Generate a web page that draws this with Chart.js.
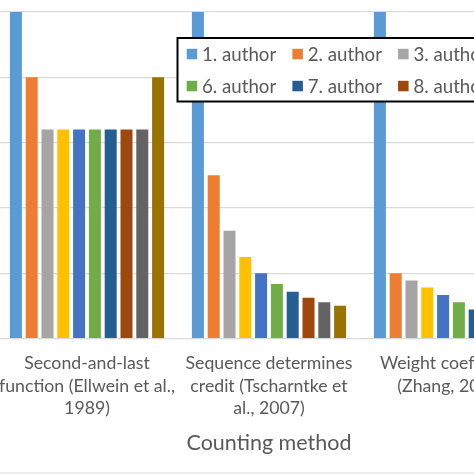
<!DOCTYPE html>
<html>
<head>
<meta charset="utf-8">
<script src="https://cdn.jsdelivr.net/npm/chart.js@4/dist/chart.umd.min.js"></script>
<style>
  html, body { margin: 0; padding: 0; background: #fff; }
  #frame { position: relative; width: 474px; height: 474px; overflow: hidden; background: #fff; }
  #holder { position: absolute; left: -4px; top: 0; width: 546px; height: 472px; }
  #edge { position: absolute; left: 0; top: 472px; width: 474px; height: 2px; background: #ededed; }
</style>
</head>
<body>
<div id="frame">
  <div id="holder"><canvas id="chart"></canvas></div>
  <div id="edge"></div>
</div>
<script>
// counting methods (x categories), each split in lines like the original
const methods = [
  ['Second-and-last', 'function (Ellwein et al.,', '1989)'],
  ['Sequence determines', 'credit (Tscharntke et', 'al., 2007)'],
  ['Weight coefficient', '(Zhang, 2009)']
];

const authorNames = ['1. author', '2. author', '3. author', '4. author', '5. author',
                     '6. author', '7. author', '8. author', '9. author', '10. author'];

// credit per author position, one value per counting method
const author1  = [1.00, 1.000, 1.000];
const author2  = [0.80, 0.500, 0.200];
const author3  = [0.64, 0.330, 0.178];
const author4  = [0.64, 0.250, 0.156];
const author5  = [0.64, 0.200, 0.133];
const author6  = [0.64, 0.167, 0.111];
const author7  = [0.64, 0.143, 0.089];
const author8  = [0.64, 0.125, 0.067];
const author9  = [0.64, 0.111, 0.044];
const author10 = [0.80, 0.100, 0.022];

const authorValues = [author1, author2, author3, author4, author5,
                      author6, author7, author8, author9, author10];

const authorColors = ['#5B9BD5', '#ED7D31', '#A5A5A5', '#FFC000', '#4472C4',
                      '#70AD47', '#255E91', '#9E480E', '#636363', '#997300'];

const FONT = 'Lato';
const GREY = '#595959';

// legend drawn as a framed box over the plot, the way the spreadsheet placed it
const legendBox = {
  id: 'legendBox',
  afterDatasetsDraw(chart) {
    const ctx = chart.ctx;
    const left = 181.5, top = 38, height = 63.5;
    ctx.save();
    ctx.fillStyle = '#fff';
    ctx.fillRect(left, top, 700, height);
    ctx.strokeStyle = '#000';
    ctx.lineWidth = 2;
    ctx.strokeRect(left, top, 700, height);

    ctx.font = '18.7px ' + FONT;
    ctx.textBaseline = 'middle';
    ctx.textAlign = 'left';
    chart.data.datasets.forEach((ds, i) => {
      const col = i % 5;
      const row = Math.floor(i / 5);
      const mx = left + 9.2 + col * 105.7;
      const my = 54 + row * 32;
      ctx.fillStyle = ds.backgroundColor;
      ctx.fillRect(mx, my - 5.2, 10.5, 10.5);
      ctx.fillStyle = GREY;
      ctx.fillText(ds.label, mx + 15.3, my + 1);
    });
    ctx.restore();
  }
};

new Chart(document.querySelector('#chart').getContext('2d'), {
  type: 'bar',
  data: {
    labels: methods,
    datasets: authorValues.map((vals, i) => ({
      label: authorNames[i],
      data: vals,
      backgroundColor: authorColors[i],
      borderWidth: 0,
      categoryPercentage: 0.868,
      barPercentage: 0.76
    }))
  },
  options: {
    responsive: true,
    maintainAspectRatio: false,
    animation: false,
    layout: { padding: { top: 12, left: 0, right: 0, bottom: 0 } },
    plugins: {
      legend: { display: false },
      tooltip: { enabled: false }
    },
    scales: {
      x: {
        grid: { display: false, drawTicks: false },
        border: { display: false },
        ticks: {
          color: GREY,
          font: { family: FONT, size: 17.7, lineHeight: 1.27 },
          padding: 14,
          maxRotation: 0,
          autoSkip: false
        },
        title: {
          display: true,
          text: 'Counting method',
          color: GREY,
          font: { family: FONT, size: 21.5, lineHeight: 1.2 },
          padding: { top: 0, bottom: 16 }
        },
        afterFit(axis) {
          axis.height = 133.5;
          // the edge labels are cut off in the original, so no extra side room
          axis.paddingLeft = 0;
          axis.paddingRight = 0;
        }
      },
      y: {
        min: 0,
        max: 1,
        ticks: { display: false, stepSize: 0.2 },
        grid: { color: '#d9d9d9', lineWidth: 1.2, drawTicks: false },
        border: { display: false },
        afterFit(axis) { axis.width = 0; }
      }
    }
  },
  plugins: [legendBox]
});
</script>
</body>
</html>
